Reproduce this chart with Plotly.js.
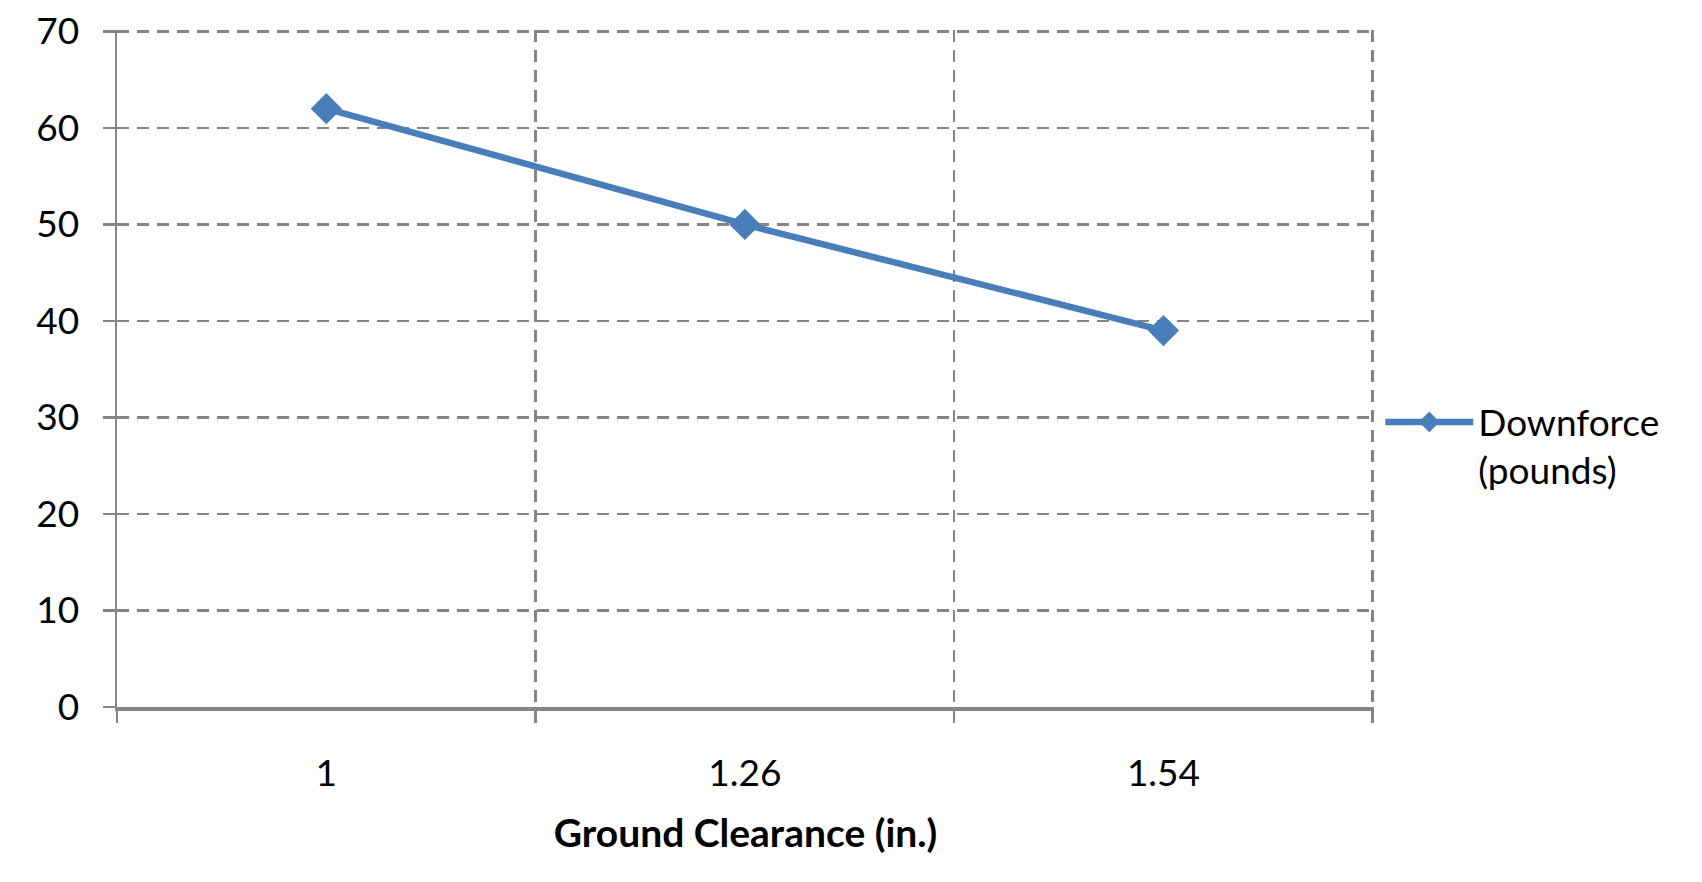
<!DOCTYPE html>
<html>
<head>
<meta charset="utf-8">
<script src="https://cdn.plot.ly/plotly-3.0.1.min.js"></script>
<style>html,body{margin:0;padding:0;background:#fff;}#chart{width:1702px;height:882px;}</style>
</head>
<body>
<div id="chart"></div>
<script>
const categories = ["1", "1.26", "1.54"];
const downforce = [62, 50, 39];
const seriesName = "Downforce<br>(pounds)";
const xTitle = "Ground Clearance (in.)";
const yTicks = [0, 10, 20, 30, 40, 50, 60, 70];

const fontFam = "Lato, 'Open Sans', sans-serif";
const gridCol = "#858585";
const trace = {
  x: categories,
  y: downforce,
  type: "scatter",
  mode: "lines+markers",
  name: seriesName,
  line: {color: "#4A7EBB", width: 6.5},
  marker: {symbol: "diamond", size: 24, color: "#4A7EBB"}
};

const layout = {
  width: 1702,
  height: 882,
  margin: {l: 117, r: 328, t: 30, b: 175},
  paper_bgcolor: "#fff",
  plot_bgcolor: "#fff",
  font: {family: fontFam, size: 37, color: "#000"},
  xaxis: {
    type: "category",
    range: [-0.5, 2.503],
    tickson: "boundaries",
    ticks: "outside",
    ticklen: 12,
    tickwidth: 2.5,
    tickcolor: gridCol,
    showgrid: true,
    gridcolor: gridCol,
    gridwidth: 2.5,
    griddash: "12px,8px",
    showline: true,
    linecolor: gridCol,
    linewidth: 3.5,
    ticklabelstandoff: 31,
    title: {text: "<b>" + xTitle + "</b>", font: {size: 39, family: fontFam}, standoff: 28},
    zeroline: false,
    fixedrange: true
  },
  yaxis: {
    range: [0, 70.15],
    tickvals: yTicks,
    ticks: "outside",
    ticklen: 12,
    tickwidth: 2.5,
    tickcolor: gridCol,
    showgrid: true,
    gridcolor: gridCol,
    gridwidth: 2.5,
    griddash: "12px,8px",
    showline: true,
    linecolor: gridCol,
    linewidth: 2.5,
    zeroline: false,
    ticklabelstandoff: 16,
    fixedrange: true
  },
  showlegend: true,
  legend: {
    x: 1.005,
    xanchor: "left",
    y: 0.385,
    yanchor: "middle",
    valign: "top",
    itemwidth: 88,
    font: {size: 37, family: fontFam},
    bgcolor: "rgba(0,0,0,0)"
  }
};

Plotly.newPlot("chart", [trace], layout, {displayModeBar: false, staticPlot: true});
</script>
</body>
</html>
